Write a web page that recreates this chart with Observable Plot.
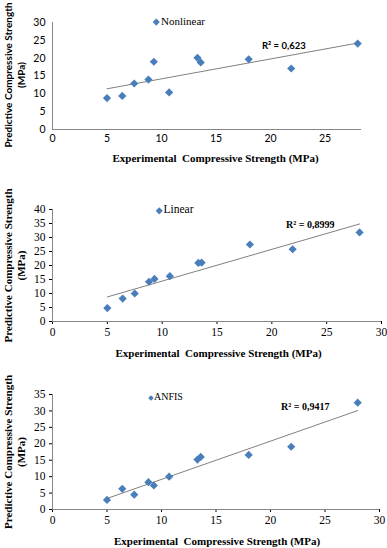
<!DOCTYPE html>
<html>
<head>
<meta charset="utf-8">
<script src="https://cdn.jsdelivr.net/npm/d3@7"></script>
<script src="https://cdn.jsdelivr.net/npm/@observablehq/plot@0.6"></script>
<style>
  html, body { margin: 0; padding: 0; background: #fff; }
  #page { position: relative; width: 387px; height: 548px; overflow: hidden; background: #fff; }
  .panel { position: relative; width: 387px; }
  .panel svg { display: block; overflow: visible; }
  .ov { position: absolute; white-space: nowrap; line-height: 1; transform: translateY(-50%); color: #000; }
  .leg { font-family: "Liberation Serif", "Times New Roman", serif; }
  .dia { display: inline-block; background: #4a7ebb; transform: rotate(45deg); vertical-align: middle; }
  .r2s { font-family: Lato, "Liberation Sans", sans-serif; font-weight: bold; }
  .r2t { font-family: "Liberation Serif", serif; font-weight: bold; }
</style>
</head>
<body>
<div id="page"></div>
<script>
// ---- data ----
const experimental = [5.0, 6.4, 7.5, 8.8, 9.3, 10.7, 13.3, 13.6, 18.0, 21.9, 28.0];
const nonlinearPredicted = [8.8, 9.4, 12.9, 14.0, 19.0, 10.4, 20.1, 18.8, 19.7, 17.1, 24.1];
const linearPredicted = [4.8, 8.2, 10.0, 14.2, 15.2, 16.2, 20.9, 21.0, 27.5, 25.8, 31.8];
const anfisPredicted = [2.9, 6.3, 4.5, 8.3, 7.3, 10.0, 15.2, 16.0, 16.6, 19.1, 32.5];

const seriesNames = ["Nonlinear", "Linear", "ANFIS"];
const r2Labels = ["R² = 0,623", "R² = 0,8999", "R² = 0,9417"];
const xTicksTop = [0, 5, 10, 15, 20, 25];
const xTicksFull = [0, 5, 10, 15, 20, 25, 30];
const yTicksNonlinear = [0, 5, 10, 15, 20, 25, 30];
const yTicksLinear = [0, 5, 10, 15, 20, 25, 30, 35, 40];
const yTicksAnfis = [0, 5, 10, 15, 20, 25, 30, 35];
const xTitle = "Experimental\u00a0 Compressive Strength (MPa)";
const yTitle = "Predictive Compressive Strength\n(MPa)";

const BLUE = "#4a7ebb";
const page = document.getElementById("page");

function panel(cfg) {
  const data = experimental.map((x, i) => ({x, y: cfg.pred[i]}));
  const div = document.createElement("div");
  div.className = "panel";
  div.style.height = cfg.height + "px";
  const chart = Plot.plot({
    width: 387,
    height: cfg.height,
    marginTop: cfg.mt, marginBottom: cfg.mb, marginLeft: 52, marginRight: cfg.mr,
    style: {fontFamily: cfg.tickFont, fontSize: cfg.tickSize + "px", color: "#000", background: "#fff"},
    x: {domain: cfg.xDomain, ticks: cfg.xTicks, tickSize: cfg.tick, tickPadding: cfg.xPad, label: null, tickFormat: d => String(d)},
    y: {domain: cfg.yDomain, ticks: cfg.yTicks, tickSize: cfg.tick, tickPadding: cfg.yPad, label: null, tickFormat: d => String(d)},
    marks: [
      Plot.ruleY([0], {stroke: "#868686", strokeWidth: 1}),
      Plot.ruleX([0], {stroke: "#868686", strokeWidth: 1}),
      Plot.linearRegressionY(data, {x: "x", y: "y", stroke: "#808080", strokeWidth: 1, ci: 0}),
      Plot.dot(data, {x: "x", y: "y", symbol: "diamond2", r: 3.7, fill: BLUE, stroke: "none"}),
      Plot.text([yTitle], {frameAnchor: "left", rotate: -90, textAnchor: "middle", lineAnchor: "middle",
        lineHeight: cfg.yLineH, dx: -38.5, dy: cfg.yTitleDy || 0, fontFamily: cfg.titleFont, fontWeight: "bold",
        fontSize: cfg.yTitleSize, fill: "#000"}),
      Plot.text([xTitle], {frameAnchor: "bottom", textAnchor: "middle", lineAnchor: "middle",
        dx: cfg.xTitleDx, dy: cfg.xTitleDy, fontFamily: "'Liberation Serif', 'Times New Roman', serif", fontWeight: "bold",
        fontSize: 11, fill: "#000"})
    ]
  });
  div.appendChild(chart);
  // legend
  const leg = document.createElement("div");
  leg.className = "ov leg";
  leg.style.left = cfg.legX + "px";
  leg.style.top = cfg.legY + "px";
  leg.style.fontSize = cfg.legSize + "px";
  leg.innerHTML = `<span class="dia" style="width:${cfg.diaS}px;height:${cfg.diaS}px;margin-right:${cfg.diaGap}px;"></span>${cfg.name}`;
  div.appendChild(leg);
  // R² annotation
  const r2 = document.createElement("div");
  r2.className = "ov " + cfg.r2Class;
  r2.style.left = cfg.r2X + "px";
  r2.style.top = cfg.r2Y + "px";
  r2.style.fontSize = cfg.r2Size + "px";
  r2.textContent = cfg.r2;
  div.appendChild(r2);
  page.appendChild(div);
}

panel({
  pred: nonlinearPredicted, name: seriesNames[0], r2: r2Labels[0],
  height: 175, mt: 22, mb: 46, mr: 26,
  xDomain: [0, 28.35], xTicks: xTicksTop, yDomain: [0, 30], yTicks: yTicksNonlinear,
  tick: 0, xPad: 5, yPad: 7,
  tickFont: "Lato, 'Liberation Sans', sans-serif", tickSize: 10.5,
  titleFont: "Lato, 'Liberation Sans', sans-serif", yTitleSize: 10, yLineH: 1.3, yTitleDy: -1,
  xTitleDx: 8.5, xTitleDy: 29,
  legX: 154, legY: 21, legSize: 11, diaS: 4.5, diaGap: 2.5,
  r2Class: "r2s", r2X: 262, r2Y: 45.5, r2Size: 9.5
});

panel({
  pred: linearPredicted, name: seriesNames[1], r2: r2Labels[1],
  height: 187, mt: 34, mb: 41, mr: 6,
  xDomain: [0, 30], xTicks: xTicksFull, yDomain: [0, 40], yTicks: yTicksLinear,
  tick: 3, xPad: 3, yPad: 4,
  tickFont: "'Liberation Serif', serif", tickSize: 11.5,
  titleFont: "'Liberation Serif', serif", yTitleSize: 11, yLineH: 1.2,
  xTitleDx: 1.5, xTitleDy: 31.5,
  legX: 156.5, legY: 34.7, legSize: 11.5, diaS: 4.5, diaGap: 2.5,
  r2Class: "r2t", r2X: 286, r2Y: 49.5, r2Size: 10
});

panel({
  pred: anfisPredicted, name: seriesNames[2], r2: r2Labels[2],
  height: 186, mt: 32, mb: 39, mr: 8,
  xDomain: [0, 30], xTicks: xTicksFull, yDomain: [0, 35], yTicks: yTicksAnfis,
  tick: 3, xPad: 3, yPad: 4,
  tickFont: "'Liberation Serif', serif", tickSize: 11.5,
  titleFont: "'Liberation Serif', serif", yTitleSize: 11, yLineH: 1.2,
  xTitleDx: 1, xTitleDy: 32,
  legX: 148.5, legY: 35, legSize: 10, diaS: 4, diaGap: 1.5,
  r2Class: "r2t", r2X: 281, r2Y: 45, r2Size: 10
});
</script>
</body>
</html>
